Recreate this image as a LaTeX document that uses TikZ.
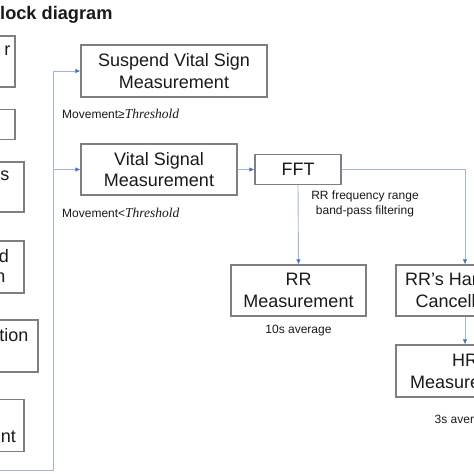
\documentclass[tikz,border=0pt]{standalone}
\usepackage{fontspec}
\setmainfont{Liberation Sans}
\newfontfamily\seriffam{Liberation Serif}
\usetikzlibrary{arrows.meta}
\definecolor{boxgray}{HTML}{7F7F7F}
\definecolor{connblue}{HTML}{A3B6D6}
\definecolor{tipblue}{HTML}{4472C4}
\definecolor{txt}{HTML}{1A1A1A}
\tikzset{
  box/.style={draw=boxgray, line width=1.1pt, fill=white, align=center, text=txt,
    font=\fontsize{18}{21.6}\selectfont, inner sep=0pt},
  frag/.style={text=txt, font=\fontsize{18}{21.6}\selectfont, inner sep=0pt},
  small/.style={text=txt, font=\fontsize{12}{14.4}\selectfont, inner sep=0pt, align=center},
  conn/.style={draw=connblue, line width=0.9pt},
  arr/.style={conn, -{Latex[length=5pt,width=4.5pt,color=tipblue]}},
}
\newcommand{\thr}{{\seriffam\itshape\fontsize{13.5}{14}\selectfont Threshold}}
\begin{document}
\begin{tikzpicture}[x=1pt,y=-1pt]
\useasboundingbox (0,0) rectangle (474,474);
\fill[white] (0,0) rectangle (474,474);
\clip (0,0) rectangle (474,474);

% title (cropped)
\node[anchor=base west, inner sep=0pt, text=txt, font=\fontsize{18.2}{20}\selectfont\bfseries] (title) at (0,19) {lock diagram};

% left column boxes (cropped)
\node[box, minimum width=60pt, minimum height=51pt] (l1) at (-15,61.5) {};
\node[frag, anchor=east] (l1t) at (10.5,50.5) {r};
\node[box, minimum width=60pt, minimum height=30pt] (l2) at (-15,124.5) {};
\node[box, minimum width=60pt, minimum height=50pt] (l3) at (-6,187) {};
\node[frag, anchor=east] (l3t) at (9.5,176) {s};
\node[box, minimum width=60pt, minimum height=52pt] (l4) at (-6,267) {};
\node[frag, anchor=east] (l4a) at (9,256) {d};
\node[frag, anchor=east] (l4b) at (5.5,278) {n};
\node[box, minimum width=60pt, minimum height=52pt] (l5) at (8,346) {};
\node[frag, anchor=east] (l5t) at (28.5,335) {tion};
\node[box, minimum width=60pt, minimum height=52pt] (l6) at (-6,425.5) {};
\node[frag, anchor=east] (l6t) at (16,437) {nt};

% main boxes
\node[box, minimum width=186pt, minimum height=52pt] (susp) at (174,71) {Suspend Vital Sign\\Measurement};
\node[box, minimum width=156pt, minimum height=51pt] (vital) at (159,169.5) {Vital Signal\\Measurement};
\node[box, minimum width=86pt, minimum height=30pt] (fft) at (298,169.5) {FFT};
\node[box, minimum width=135pt, minimum height=51pt] (rr) at (298.5,290.5) {RR\\Measurement};
\node[box, minimum width=138pt, minimum height=51pt] (harm) at (465,290.5) {};
\node[frag, anchor=west] (harma) at (405,279.5) {RR's Har};
\node[frag, anchor=west] (harmb) at (415.5,301.5) {Cancell};
\node[box, minimum width=138pt, minimum height=52pt] (hr) at (465,371) {};
\node[frag, anchor=west] (hra) at (452,360) {HR};
\node[frag, anchor=west] (hrb) at (410,382) {Measure};

% labels
\node[small, anchor=west] (lab1) at (62,114) {Movement≥\thr};
\node[small, anchor=west] (lab2) at (62,213) {Movement<\thr};
\node[small] (lab3) at (365,204) {RR frequency range\\band-pass filtering};
\node[small] (lab4) at (298.5,331) {10s average};
\node[small, anchor=west] (lab5) at (434.5,419) {3s aver};

% feedback loop
\coordinate (fb0) at (-5,470);
\coordinate (fbc) at (53,470);
\coordinate (fbtop) at (53,71);
\coordinate (fbmid) at (53,169.5);
\draw[arr] (fb0) -- (fbc) -- (fbtop) -- (susp.west);
\draw[arr] (fbmid) -- (vital.west);

% signal chain
\draw[arr] (vital.east) -- (fft.west);
\draw[arr] (fft.south) -- (rr.north);
\draw[arr] (fft.east) -| (harm.north);
\draw[arr] (harm.south) -- (hr.north);
\end{tikzpicture}
\end{document}
